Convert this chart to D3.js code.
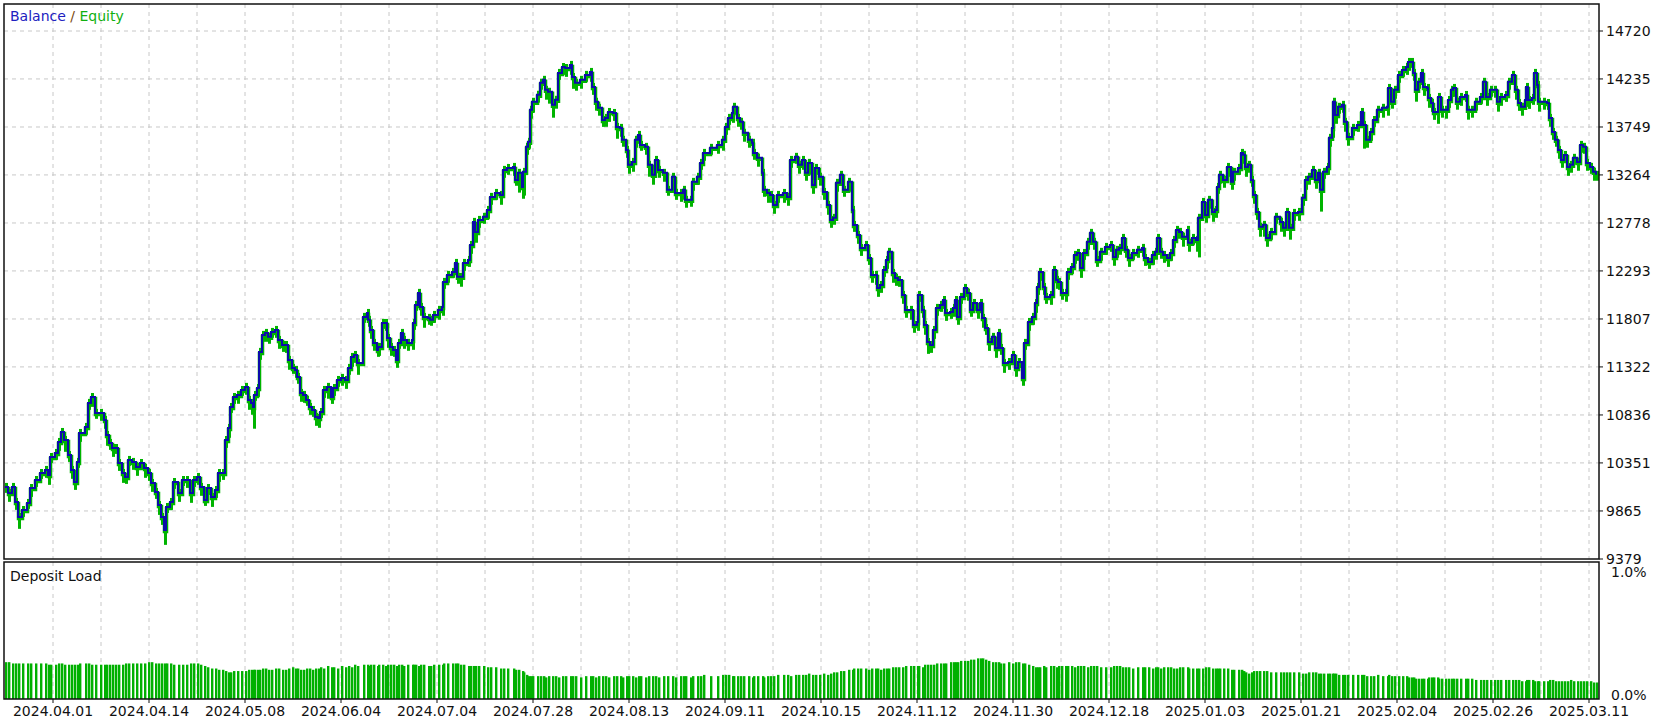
<!DOCTYPE html>
<html><head><meta charset="utf-8">
<script src="https://cdn.jsdelivr.net/npm/d3@7/dist/d3.min.js"></script>
<style>body{margin:0;background:#fff}svg{display:block}text{font-family:"DejaVu Sans",sans-serif;font-size:14px;fill:#111}</style>
</head><body><svg id="c" width="1664" height="722"></svg>
<script>
const deal=[5,8,12,15,18,22,27,30,35,40,45,48,50,55,58,61,64,68,71,74,77,79,85,88,91,95,100,104,106,109,112,115,118,122,125,128,132,136,140,144,148,151,155,158,161,164,166,170,173,178,182,186,190,193,197,200,204,207,211,215,218,222,225,228,230,233,237,241,245,248,251,253,254,257,259,262,265,268,271,275,278,282,285,288,292,295,297,300,303,306,309,312,315,318,320,323,327,331,333,337,341,345,348,351,354,357,363,367,368,370,373,377,378,382,385,387,390,393,396,398,401,403,407,412,413,415,418,420,423,428,430,433,438,442,443,447,452,455,457,460,463,468,470,473,475,478,483,487,490,495,500,503,507,513,515,518,522,523,526,528,530,532,537,540,543,545,548,552,555,558,562,565,570,572,575,580,585,590,592,595,598,602,605,608,613,616,620,622,626,628,632,635,638,640,645,648,652,655,658,663,667,672,675,680,683,685,690,692,697,700,703,710,717,722,725,728,732,733,737,740,743,748,752,753,757,762,763,767,770,773,777,783,787,790,795,798,802,805,808,812,815,819,823,827,830,833,836,840,843,848,852,853,857,860,865,868,871,875,877,880,883,886,888,892,895,898,902,905,910,913,917,918,922,924,927,930,933,936,940,943,945,950,953,955,957,960,964,967,970,973,977,980,982,985,988,992,995,998,1000,1003,1008,1012,1015,1018,1022,1024,1028,1032,1035,1037,1039,1043,1045,1050,1053,1056,1058,1061,1065,1067,1071,1074,1077,1080,1083,1087,1090,1093,1096,1100,1105,1110,1113,1116,1119,1122,1125,1128,1132,1137,1142,1144,1148,1152,1155,1157,1160,1163,1167,1170,1173,1176,1179,1182,1187,1188,1192,1196,1198,1202,1205,1208,1212,1215,1217,1219,1223,1227,1231,1233,1238,1241,1243,1245,1248,1251,1253,1256,1259,1263,1266,1270,1275,1280,1283,1286,1289,1293,1298,1302,1305,1308,1312,1315,1318,1320,1323,1327,1329,1332,1333,1335,1338,1342,1344,1347,1352,1357,1361,1363,1366,1370,1373,1377,1382,1387,1388,1391,1394,1398,1402,1406,1408,1411,1413,1415,1418,1421,1423,1427,1428,1431,1433,1437,1438,1441,1445,1448,1451,1453,1456,1460,1465,1467,1471,1475,1480,1483,1486,1490,1494,1497,1500,1505,1508,1512,1515,1518,1521,1525,1526,1528,1532,1534,1537,1538,1543,1547,1549,1552,1555,1558,1561,1564,1567,1570,1573,1577,1580,1583,1586,1590,1593,1596];
const balance=[10108,10047,10108,9956,9804,9875,9946,10097,10178,10249,10280,10229,10411,10452,10563,10664,10583,10431,10280,10158,10361,10654,10715,10958,11018,10857,10857,10786,10634,10553,10502,10502,10350,10249,10209,10381,10361,10310,10350,10300,10249,10148,10057,9925,9804,9672,9905,9956,10158,10047,10178,10178,10047,10178,10209,10108,9976,10097,10006,10077,10249,10249,10583,10705,10917,11018,11039,11089,11120,10988,10958,10917,11039,11109,11474,11646,11666,11626,11676,11696,11595,11544,11544,11393,11312,11292,11221,11059,11039,10988,10917,10887,10816,10806,10866,11089,11120,11018,11109,11190,11211,11190,11312,11423,11443,11362,11828,11868,11798,11696,11565,11494,11524,11767,11767,11615,11524,11494,11393,11565,11666,11595,11565,11595,11767,11949,12071,11929,11828,11818,11798,11848,11899,11929,12182,12253,12283,12374,12233,12233,12374,12404,12556,12789,12688,12809,12840,12910,13042,13082,13062,13315,13335,13345,13214,13285,13143,13295,13548,13599,13923,14004,14075,14196,14226,14125,14105,13973,14024,14296,14356,14346,14377,14255,14196,14226,14276,14306,14154,14004,13943,13820,13841,13901,13891,13750,13740,13619,13517,13366,13396,13619,13669,13568,13548,13366,13265,13416,13315,13285,13113,13245,13082,13082,13113,13012,13012,13194,13245,13386,13487,13538,13568,13619,13750,13841,13891,13953,13841,13801,13690,13619,13589,13487,13437,13285,13113,13082,13062,12961,13062,13082,13042,13416,13447,13366,13416,13285,13386,13163,13335,13245,13092,12961,12809,12830,13184,13265,13113,13194,12910,12758,12657,12525,12556,12424,12253,12253,12121,12151,12303,12404,12486,12273,12222,12202,12050,11899,11899,11747,11777,12050,11899,11747,11574,11544,11696,11919,11949,11999,11868,11878,11919,11999,11828,12030,12121,12071,11899,11969,11899,11969,11818,11716,11574,11626,11514,11666,11514,11362,11372,11443,11312,11372,11211,11565,11777,11828,11969,12131,12283,12131,12030,12050,12303,12202,12182,12071,12071,12283,12333,12455,12475,12323,12475,12587,12678,12587,12404,12486,12536,12556,12435,12506,12526,12627,12506,12424,12475,12506,12526,12424,12384,12455,12486,12627,12486,12455,12424,12475,12607,12708,12688,12638,12708,12577,12627,12607,12830,12991,12860,13012,12890,12910,13143,13265,13214,13345,13194,13295,13335,13487,13467,13345,13366,13214,13062,12890,12739,12759,12627,12688,12840,12789,12729,12890,12729,12880,12890,13032,13214,13245,13315,13214,13285,13113,13295,13345,13639,13740,14004,13871,13953,13973,13801,13649,13740,13770,13901,13770,13619,13699,13820,13923,13943,13953,14144,14004,14125,14276,14326,14356,14407,14407,14296,14125,14206,14296,14154,14144,14043,13992,13901,13901,14053,13923,13923,14022,14125,14144,14004,14053,14073,13923,13923,14004,14053,14206,14053,14125,14125,14004,14053,14073,14206,14276,14125,13992,13953,14022,14154,14022,14043,14296,14174,14004,14004,13992,13841,13699,13619,13517,13416,13466,13345,13366,13437,13396,13568,13548,13386,13345,13295,13265];
const equityDip=[60,90,50,80,120,70,60,90,70,60,80,100,60,70,90,80,120,70,90,80,60,90,80,70,100,60,80,90,110,70,90,60,80,100,70,60,80,90,70,100,80,90,70,100,80,150,60,80,70,90,60,80,100,70,80,90,60,70,100,80,90,70,80,100,60,70,90,60,80,100,120,220,60,90,80,70,90,70,60,80,90,70,80,100,60,80,70,90,80,60,80,70,90,100,60,80,120,70,80,70,80,90,70,100,80,120,60,100,70,90,80,70,90,60,80,100,90,70,80,60,70,90,80,100,70,60,80,90,110,70,60,80,100,90,70,80,60,90,70,100,80,70,90,60,110,80,70,90,80,70,100,80,70,90,60,200,120,240,80,70,90,110,80,70,60,100,120,130,90,70,80,90,100,120,80,90,70,100,80,90,80,70,90,100,80,120,90,70,80,90,100,80,90,60,80,120,100,70,80,90,60,80,70,90,100,80,70,90,80,70,80,70,90,110,80,70,100,80,90,80,90,80,110,70,90,80,70,100,80,90,80,100,90,80,70,90,100,80,120,90,70,90,80,100,80,70,90,80,70,100,80,70,90,80,60,70,80,100,90,80,70,90,80,100,80,70,90,80,100,80,90,70,80,100,120,80,90,80,70,90,80,70,90,100,80,70,90,80,70,80,90,80,100,70,90,80,100,80,70,100,80,70,90,60,80,70,90,80,100,80,90,80,70,100,80,90,80,70,90,80,70,90,80,100,70,80,90,80,70,90,80,70,90,80,70,100,80,90,70,80,90,80,70,100,80,90,70,80,90,80,80,90,70,100,80,90,70,120,400,100,80,90,100,80,70,90,80,100,80,90,70,80,90,100,80,70,90,80,100,120,90,80,70,100,90,80,120,80,90,80,100,80,70,90,80,220,70,80,90,100,80,90,70,80,100,90,80,70,90,240,80,90,70,80,100,90,80,70,90,80,70,80,90,60,80,120,70,80,90,80,100,90,80,120,70,80,90,80,70,90,80,90,70,100,80,90,70,80,90,70,80,100,90,70,80,90,100,80,90,70,80,90,70,80,90,100,80,70,90,80,70,90,80,70,90,80,70,90,80,70,80,70,90,60];
const depositLoad=[29,29,28,28,28,28,28,28,28,28,28,27,27,27,28,28,27,27,27,27,27,28,28,28,27,27,27,27,27,27,27,27,27,27,28,28,28,28,28,28,29,29,28,28,28,28,28,28,27,27,27,27,28,28,28,27,26,25,24,24,23,23,22,21,21,22,22,22,22,23,23,23,23,23,23,24,24,23,23,24,24,23,23,24,25,24,24,23,23,24,24,23,24,24,25,24,26,25,25,24,26,25,26,25,27,26,27,27,26,27,27,26,27,27,26,27,27,27,26,27,27,26,27,27,27,27,26,27,27,26,26,27,27,27,28,28,28,28,28,27,27,26,26,26,26,26,26,25,25,25,24,24,24,24,23,23,22,21,19,18,18,18,18,18,18,17,18,18,18,17,18,18,18,18,18,17,18,18,18,17,18,18,18,17,18,18,18,17,18,18,18,17,18,18,17,18,18,18,17,18,18,18,17,18,18,18,17,18,18,18,19,18,18,19,19,19,18,18,18,18,18,18,17,18,18,18,17,18,18,18,19,19,19,18,19,19,19,19,20,19,19,19,20,19,20,21,21,22,22,23,23,24,24,24,24,23,24,24,24,23,24,24,24,25,25,25,25,26,26,26,26,26,25,27,27,27,27,28,28,28,28,29,29,29,29,30,30,30,31,31,32,32,32,31,30,29,29,29,28,28,29,28,29,29,28,28,27,26,25,25,25,26,25,26,26,25,26,26,26,26,26,25,26,26,26,25,26,26,26,25,25,25,26,26,26,25,25,25,24,25,25,25,25,24,25,25,24,25,25,25,24,24,25,25,25,24,24,24,24,24,25,25,24,24,24,24,24,24,23,23,23,23,22,21,20,21,22,22,22,22,22,21,21,21,21,21,21,21,21,20,20,21,21,21,20,20,20,20,20,20,20,20,19,19,19,19,19,19,19,19,18,18,18,19,18,18,19,18,18,18,18,18,17,17,17,16,16,16,16,16,17,17,17,17,16,16,16,16,16,16,16,16,16,16,16,15,15,15,15,15,15,15,15,15,15,15,15,15,14,14,15,15,15,14,14,14,14,14,15,15,14,14,14,14,14,15,14,14,14,14,14,14,13,13];
const yTicks=[9379,9865,10351,10836,11322,11807,12293,12778,13264,13749,14235,14720];
const xTickLabels=["2024.04.01","2024.04.14","2024.05.08","2024.06.04","2024.07.04","2024.07.28","2024.08.13","2024.09.11","2024.10.15","2024.11.12","2024.11.30","2024.12.18","2025.01.03","2025.01.21","2025.02.04","2025.02.26","2025.03.11"];
const loadTicks=[0,1];

const svg=d3.select("#c");
const L=4,R=1599,T=4,B1=559,T2=562,B2=699;
const x=d3.scaleLinear().domain([5,1599]).range([5,1599]);
const y=d3.scaleLinear().domain([9379,14720]).range([559,31]);
const yl=d3.scaleLinear().domain([0,1]).range([699,572]);
const n=Math.min(deal.length,balance.length,equityDip.length,depositLoad.length);
const pts=d3.range(n).map(i=>({d:deal[i],b:balance[i],e:balance[i]-equityDip[i],l:depositLoad[i]/100}));
const gridX=d3.range(1,34).map(k=>5+48*k);
const dash="4,4";
const g=svg.append("g");
gridX.forEach(v=>{
  g.append("line").attr("x1",v).attr("x2",v).attr("y1",T).attr("y2",B1).attr("stroke","#c8c8c8").attr("stroke-dasharray",dash);
  g.append("line").attr("x1",v).attr("x2",v).attr("y1",T2).attr("y2",B2).attr("stroke","#c8c8c8").attr("stroke-dasharray",dash);
});
yTicks.slice(1).forEach(v=>g.append("line").attr("x1",L).attr("x2",R).attr("y1",y(v)).attr("y2",y(v)).attr("stroke","#c8c8c8").attr("stroke-dasharray",dash));
svg.append("clipPath").attr("id","cp").append("rect").attr("x",L).attr("y",T).attr("width",R-L).attr("height",B1-T);
const pg=svg.append("g").attr("clip-path","url(#cp)");
const line=d3.line().x(p=>x(p.d)).y(p=>y(p.b)).curve(d3.curveStepAfter);
pg.append("path").datum(pts).attr("d",line).attr("fill","none").attr("stroke","#00b400").attr("stroke-width",3.5).attr("transform","translate(0.5,1.5)");
pg.selectAll(".eq").data(pts).join("line").attr("x1",p=>x(p.d)+1.5).attr("x2",p=>x(p.d)+1.5).attr("y1",p=>y(p.b)-4).attr("y2",p=>y(p.e)).attr("stroke","#00b400").attr("stroke-width",3);
pg.append("path").datum(pts).attr("d",line).attr("fill","none").attr("stroke","#0c0caa").attr("stroke-width",2);
svg.append("g").selectAll("rect").data(pts).join("rect").attr("x",p=>x(p.d)).attr("width",2.4).attr("y",p=>yl(p.l)).attr("height",p=>yl(0)-yl(p.l)).attr("fill","#00b000");
svg.append("rect").attr("x",L).attr("y",T).attr("width",R-L).attr("height",B1-T).attr("fill","none").attr("stroke","#111").attr("stroke-width",1.5);
svg.append("rect").attr("x",L).attr("y",T2).attr("width",R-L).attr("height",B2-T2).attr("fill","none").attr("stroke","#111").attr("stroke-width",1.5);
yTicks.forEach(v=>{
  svg.append("line").attr("x1",R).attr("x2",R+4).attr("y1",y(v)).attr("y2",y(v)).attr("stroke","#111");
  svg.append("text").attr("x",R+7).attr("y",y(v)).attr("dy","0.35em").text(v);
});
loadTicks.forEach(v=>svg.append("text").attr("x",R+12).attr("y",yl(v)-(v===0?4:0)).attr("dy","0.35em").text(v.toFixed(1)+"%"));
xTickLabels.forEach((t,i)=>{
  const xv=5+48*(2*i+1);
  svg.append("line").attr("x1",xv).attr("x2",xv).attr("y1",B2).attr("y2",B2+4).attr("stroke","#111");
  svg.append("text").attr("x",xv).attr("y",716).attr("text-anchor","middle").text(t);
});
const lg=svg.append("text").attr("x",10).attr("y",21);
lg.append("tspan").style("fill","#2020c0").text("Balance");
lg.append("tspan").style("fill","#7a4a10").text(" / ");
lg.append("tspan").style("fill","#10b010").text("Equity");
svg.append("text").attr("x",10).attr("y",581).text("Deposit Load");
</script></body></html>
